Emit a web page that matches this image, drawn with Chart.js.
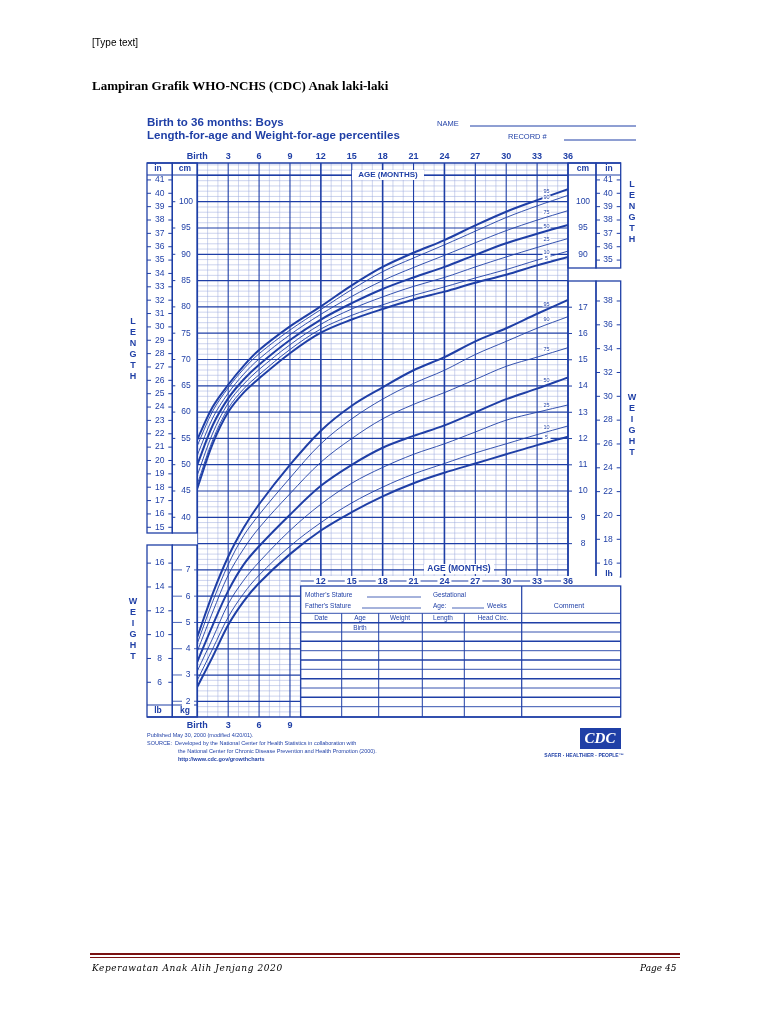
<!DOCTYPE html>
<html>
<head>
<meta charset="utf-8">
<script src="https://cdn.jsdelivr.net/npm/chart.js@4"></script>
<style>
  body { margin: 0; background: #fff; }
  #page { position: relative; width: 768px; height: 1024px; overflow: hidden; }
  #wrap { position: absolute; left: 0; top: 0; width: 768px; height: 1024px; }
  .t { position: absolute; white-space: nowrap; color: #000; }
</style>
</head>
<body>
<div id="page">
  <div id="wrap"><canvas id="growth"></canvas></div>
  <div class="t" style="left:92px;top:37px;font:10px 'Liberation Sans',sans-serif;">[Type text]</div>
  <div class="t" style="left:92px;top:78px;font:bold 13px 'Liberation Serif',serif;">Lampiran Grafik WHO-NCHS (CDC) Anak laki-laki</div>
  <div class="t" style="left:92px;top:963px;font:italic 9px 'DejaVu Serif',serif;letter-spacing:0.6px;">Keperawatan Anak Alih Jenjang 2020</div>
  <div class="t" style="left:640px;top:963px;font:italic 9px 'DejaVu Serif',serif;">Page 45</div>
  <div style="position:absolute;left:90px;top:953px;width:590px;height:2px;background:#7a1212;"></div>
  <div style="position:absolute;left:90px;top:957px;width:590px;height:1px;background:#7a1212;"></div>
</div>
<script>
// ages in months
var ages = [0, 1.5, 3, 4.5, 6, 9, 12, 15, 18, 21, 24, 27, 30, 33, 36];
var percentiles = ['5', '10', '25', '50', '75', '90', '95'];

// length-for-age (cm)
var len5  = [45.5, 54.0, 60.0, 63.7, 66.4, 71.2, 75.1, 77.6, 79.6, 81.4, 82.9, 84.6, 86.1, 87.9, 89.5];
var len10 = [46.3, 54.7, 60.7, 64.4, 67.1, 71.9, 75.8, 78.4, 80.4, 82.2, 83.8, 85.5, 87.1, 88.9, 90.6];
var len25 = [48.0, 56.0, 61.7, 65.3, 68.1, 72.8, 76.7, 79.6, 81.9, 83.9, 85.6, 87.6, 89.5, 91.3, 93.0];
var len50 = [50.0, 57.5, 62.6, 66.2, 69.0, 73.7, 77.6, 80.7, 83.4, 85.6, 87.6, 89.9, 92.1, 93.9, 95.6];
var len75 = [51.8, 58.9, 63.6, 67.2, 70.1, 74.7, 78.6, 82.0, 85.0, 87.5, 89.8, 92.2, 94.5, 96.5, 98.3];
var len90 = [53.6, 60.2, 64.6, 68.2, 71.1, 75.6, 79.5, 83.3, 86.7, 89.3, 91.8, 94.4, 97.0, 99.2, 101.2];
var len95 = [54.8, 61.0, 65.2, 68.8, 71.8, 76.3, 80.1, 84.1, 87.6, 90.3, 92.7, 95.5, 98.1, 100.3, 102.4];

// weight-for-age (kg)
var wt5  = [2.55, 3.7, 4.9, 5.8, 6.5, 7.6, 8.5, 9.2, 9.8, 10.3, 10.7, 11.05, 11.4, 11.75, 12.07];
var wt10 = [2.8, 4.0, 5.2, 6.1, 6.8, 7.9, 8.8, 9.55, 10.15, 10.65, 11.05, 11.45, 11.8, 12.15, 12.48];
var wt25 = [3.15, 4.4, 5.7, 6.6, 7.3, 8.5, 9.5, 10.3, 10.9, 11.4, 11.8, 12.25, 12.7, 13.0, 13.28];
var wt50 = [3.5, 4.9, 6.2, 7.2, 7.9, 9.1, 10.2, 11.0, 11.65, 12.1, 12.5, 13.0, 13.5, 13.9, 14.33];
var wt75 = [3.9, 5.4, 6.8, 7.8, 8.6, 9.9, 11.1, 12.0, 12.75, 13.3, 13.75, 14.25, 14.75, 15.1, 15.46];
var wt90 = [4.2, 5.8, 7.2, 8.3, 9.1, 10.5, 11.8, 12.75, 13.5, 14.1, 14.6, 15.2, 15.7, 16.2, 16.64];
var wt95 = [4.45, 6.1, 7.5, 8.6, 9.5, 11.0, 12.3, 13.25, 13.95, 14.6, 15.1, 15.7, 16.2, 16.75, 17.28];

var monthLabels = ['Birth', '3', '6', '9', '12', '15', '18', '21', '24', '27', '30', '33', '36'];
var cmTicks = [40, 45, 50, 55, 60, 65, 70, 75, 80, 85, 90, 95, 100];
var kgTicksLeft = [2, 3, 4, 5, 6, 7];
var kgTicksRight = [8, 9, 10, 11, 12, 13, 14, 15, 16, 17];

var BLUE = '#1f3fa6';
var LIGHT = '#9aa9dc';
var lenSeries = [len5, len10, len25, len50, len75, len90, len95];
var wtSeries = [wt5, wt10, wt25, wt50, wt75, wt90, wt95];

function pts(vals) {
  return ages.map(function (a, i) { return { x: a, y: vals[i] }; });
}
function thick(p) { return (p === '5' || p === '50' || p === '95') ? 2 : 0.9; }

var datasets = [];
lenSeries.forEach(function (s, i) {
  datasets.push({ label: 'L' + percentiles[i], data: pts(s), yAxisID: 'cm',
    borderColor: BLUE, borderWidth: thick(percentiles[i]), pointRadius: 0, tension: 0.35 });
});
wtSeries.forEach(function (s, i) {
  datasets.push({ label: 'W' + percentiles[i], data: pts(s), yAxisID: 'kg',
    borderColor: BLUE, borderWidth: thick(percentiles[i]), pointRadius: 0, tension: 0.35 });
});

function txt(ctx, s, x, y, font, align) {
  ctx.font = font; ctx.textAlign = align || 'center'; ctx.textBaseline = 'middle';
  ctx.fillStyle = BLUE; ctx.fillText(s, x, y);
}
function line(ctx, x1, y1, x2, y2, w, col) {
  ctx.beginPath(); ctx.lineWidth = w || 1; ctx.strokeStyle = col || BLUE;
  ctx.moveTo(x1, y1); ctx.lineTo(x2, y2); ctx.stroke();
}
function vertical(ctx, word, x, y0) {
  for (var i = 0; i < word.length; i++) txt(ctx, word[i], x, y0 + i * 11, 'bold 9px "Liberation Sans"');
}

var gridPlugin = {
  id: 'grid',
  beforeDatasetsDraw: function (chart) {
    var ctx = chart.ctx, a = chart.chartArea, sx = chart.scales.x, sc = chart.scales.cm;
    ctx.save();
    for (var c = 3; c <= 107; c++) {
      var y = sc.getPixelForValue(c);
      if (c % 5 !== 0) line(ctx, a.left, y, a.right, y, 0.5, LIGHT);
    }
    for (var m = 0; m <= 36; m++) {
      var x = sx.getPixelForValue(m);
      if (m % 3 !== 0) line(ctx, x, a.top, x, a.bottom, 0.5, LIGHT);
    }
    for (var c2 = 5; c2 <= 105; c2 += 5) {
      var y2 = sc.getPixelForValue(c2);
      line(ctx, a.left, y2, a.right, y2, 1.2);
    }
    for (var m2 = 0; m2 <= 36; m2 += 3) {
      var x2 = sx.getPixelForValue(m2);
      line(ctx, x2, a.top, x2, a.bottom, (m2 % 12 === 0 || m2 === 18) ? 1.6 : 1.1);
    }
    ctx.restore();
  },
  afterDatasetsDraw: function (chart) {
    var ctx = chart.ctx, a = chart.chartArea, sx = chart.scales.x, sc = chart.scales.cm, sk = chart.scales.kg;
    var X = function (m) { return sx.getPixelForValue(m); };
    var YC = function (v) { return sc.getPixelForValue(v); };
    var YK = function (v) { return sk.getPixelForValue(v); };
    ctx.save();
    // header rows
    ctx.fillStyle = '#fff';
    ctx.fillRect(140, 108, 510, a.top - 108 - 1);
    txt(ctx, 'Birth to 36 months: Boys', 147, 123, 'bold 11.5px "Liberation Sans"', 'left');
    txt(ctx, 'Length-for-age and Weight-for-age percentiles', 147, 136, 'bold 11.5px "Liberation Sans"', 'left');
    txt(ctx, 'NAME', 437, 124, '7.5px "Liberation Sans"', 'left');
    line(ctx, 470, 126, 636, 126, 1);
    txt(ctx, 'RECORD #', 508, 137, '7.5px "Liberation Sans"', 'left');
    line(ctx, 564, 140, 636, 140, 1);
    monthLabels.forEach(function (l, i) {
      txt(ctx, l, X(i * 3), 157, 'bold 9px "Liberation Sans"');
    });
    line(ctx, 147, a.top, 621, a.top, 1.5);
    line(ctx, a.left, a.top + 12, a.right, a.top + 12, 1.2);
    ctx.fillStyle = '#fff';
    ctx.fillRect(352, a.top + 7, 72, 10);
    txt(ctx, 'AGE (MONTHS)', 388, a.top + 12, 'bold 8px "Liberation Sans"');

    // left column boxes
    var L0 = 147, L1 = 172.3, R1 = 596, R2 = 620.7;
    ctx.fillStyle = '#fff';
    ctx.fillRect(L0 - 20, 533, a.left - L0 + 20, 12);
    ctx.fillRect(a.right + 1, 268, R2 - a.right + 1, 13);
    ctx.strokeStyle = BLUE; ctx.lineWidth = 1.3;
    ctx.strokeRect(L0, a.top, L1 - L0, 533 - a.top);
    ctx.strokeRect(L1, a.top, a.left - L1, 533 - a.top);
    ctx.strokeRect(L0, 545, L1 - L0, a.bottom - 545);
    ctx.strokeRect(L1, 545, a.left - L1, a.bottom - 545);
    line(ctx, L0, a.top + 12, a.left, a.top + 12, 1.2);
    line(ctx, L0, a.bottom - 12, a.left, a.bottom - 12, 1.2);
    txt(ctx, 'in', 158, a.top + 6, 'bold 8.5px "Liberation Sans"');
    txt(ctx, 'cm', 185, a.top + 6, 'bold 8.5px "Liberation Sans"');
    txt(ctx, 'lb', 158, a.bottom - 6, 'bold 8.5px "Liberation Sans"');
    txt(ctx, 'kg', 185, a.bottom - 6, 'bold 8.5px "Liberation Sans"');
    for (var inch = 15; inch <= 41; inch++) {
      var yi = YC(inch * 2.54);
      line(ctx, L0, yi, L0 + 4, yi, 1); line(ctx, L1 - 4, yi, L1, yi, 1);
      txt(ctx, String(inch), (L0 + L1) / 2, yi, '8.5px "Liberation Sans"');
    }
    cmTicks.forEach(function (c) {
      var y = YC(c);
      line(ctx, L1, y, L1 + 3, y, 1);
      txt(ctx, String(c), 186, y, '8.5px "Liberation Sans"');
    });
    for (var lb = 6; lb <= 16; lb += 2) {
      var yl = YK(lb / 2.2046);
      line(ctx, L0, yl, L0 + 4, yl, 1); line(ctx, L1 - 4, yl, L1, yl, 1);
      txt(ctx, String(lb), (L0 + L1) / 2, yl, '8.5px "Liberation Sans"');
    }
    kgTicksLeft.forEach(function (k) {
      var y = YK(k);
      line(ctx, L1, y, a.left, y, 0.8);
      ctx.fillStyle = '#fff'; ctx.fillRect(182, y - 5, 12, 10);
      txt(ctx, String(k), 188, y, '8.5px "Liberation Sans"');
    });
    vertical(ctx, 'LENGTH', 133, 322);
    vertical(ctx, 'WEIGHT', 133, 602);

    // right column boxes
    ctx.strokeStyle = BLUE; ctx.lineWidth = 1.3;
    ctx.strokeRect(a.right, a.top, R1 - a.right, 268 - a.top);
    ctx.strokeRect(R1, a.top, R2 - R1, 268 - a.top);
    ctx.strokeRect(a.right, 281, R1 - a.right, 577 - 281);
    ctx.strokeRect(R1, 281, R2 - R1, 577 - 281);
    line(ctx, a.right, a.top + 12, R2, a.top + 12, 1.2);
    txt(ctx, 'cm', 583, a.top + 6, 'bold 8.5px "Liberation Sans"');
    txt(ctx, 'in', 609, a.top + 6, 'bold 8.5px "Liberation Sans"');
    [90, 95, 100].forEach(function (c) { txt(ctx, String(c), 583, YC(c), '8.5px "Liberation Sans"'); });
    for (var in2 = 35; in2 <= 41; in2++) {
      var yr = YC(in2 * 2.54);
      line(ctx, R1, yr, R1 + 4, yr, 1); line(ctx, R2 - 4, yr, R2, yr, 1);
      txt(ctx, String(in2), 608, yr, '8.5px "Liberation Sans"');
    }
    kgTicksRight.forEach(function (k) {
      var y = YK(k);
      line(ctx, a.right, y, a.right + 4, y, 1);
      txt(ctx, String(k), 583, y, '8.5px "Liberation Sans"');
    });
    for (var lb2 = 16; lb2 <= 38; lb2 += 2) {
      var y2 = YK(lb2 / 2.2046);
      line(ctx, R1, y2, R1 + 4, y2, 1); line(ctx, R2 - 4, y2, R2, y2, 1);
      txt(ctx, String(lb2), 608, y2, '8.5px "Liberation Sans"');
    }
    txt(ctx, 'kg', 584, 581, 'bold 8.5px "Liberation Sans"');
    txt(ctx, 'lb', 609, 575, 'bold 8.5px "Liberation Sans"');
    vertical(ctx, 'LENGTH', 632, 185);
    vertical(ctx, 'WEIGHT', 632, 398);

    // percentile labels near curve ends
    function pctLabel(p, y) {
      var x = X(34.3) - 4;
      ctx.fillStyle = '#fff'; ctx.fillRect(x - 4, y - 6, 8, 5);
      txt(ctx, p, x, y - 3.5, '5.5px "Liberation Sans"');
    }
    lenSeries.forEach(function (s, i) { pctLabel(percentiles[i], YC(s[13] + (s[14] - s[13]) * 0.45)); });
    wtSeries.forEach(function (s, i) { pctLabel(percentiles[i], YK(s[13] + (s[14] - s[13]) * 0.45)); });

    // lower age axis + record table
    var T0 = 300.7, T1 = 620.7, TT = 586, TB = a.bottom;
    ctx.fillStyle = '#fff';
    ctx.fillRect(T0, 576, T1 - T0 - 1, TB - 576);
    ctx.fillRect(424, 564, 70, 10);
    txt(ctx, 'AGE (MONTHS)', 459, 569, 'bold 8.5px "Liberation Sans"');
    line(ctx, T0, 581, a.right, 581, 1.2);
    for (var k = 4; k < monthLabels.length; k++) {
      var xm = X(k * 3);
      ctx.fillStyle = '#fff'; ctx.fillRect(xm - 7, 576, 14, 10);
      txt(ctx, monthLabels[k], xm, 582, 'bold 9px "Liberation Sans"');
    }
    ctx.strokeStyle = BLUE; ctx.lineWidth = 1.3;
    ctx.strokeRect(T0, TT, T1 - T0, TB - TT);
    var rows = [613.3, 622.7, 632, 641.3, 650.7, 660, 669.3, 678.7, 688, 697.3, 706.7];
    rows.forEach(function (y, i) { line(ctx, T0, y, T1, y, i % 2 ? 1.4 : 0.9); });
    [341.7, 378.7, 422.3, 464.3].forEach(function (x) { line(ctx, x, 613.3, x, TB, 1); });
    line(ctx, 521.7, TT, 521.7, TB, 1.2);
    var f6 = '6.5px "Liberation Sans"';
    txt(ctx, "Mother's Stature", 305, 595, f6, 'left'); line(ctx, 367, 597, 421, 597, 0.8);
    txt(ctx, "Father's Stature", 305, 606, f6, 'left'); line(ctx, 362, 608, 421, 608, 0.8);
    txt(ctx, 'Gestational', 433, 595, f6, 'left');
    txt(ctx, 'Age:', 433, 606, f6, 'left'); line(ctx, 452, 608, 484, 608, 0.8);
    txt(ctx, 'Weeks', 487, 606, f6, 'left');
    txt(ctx, 'Comment', 569, 606, '7px "Liberation Sans"');
    [['Date', 321], ['Age', 360], ['Weight', 400], ['Length', 443], ['Head Circ.', 493]].forEach(function (h) {
      txt(ctx, h[0], h[1], 618, f6);
    });
    txt(ctx, 'Birth', 360, 628, f6);

    // bottom labels
    ctx.fillStyle = '#fff'; ctx.fillRect(140, a.bottom + 2, 510, 60);
    line(ctx, L0, a.bottom, T1, a.bottom, 1.5);
    for (var j = 0; j < 4; j++) txt(ctx, monthLabels[j], X(j * 3), 726, 'bold 9px "Liberation Sans"');
    var f5 = '5.5px "Liberation Sans"';
    txt(ctx, 'Published May 30, 2000 (modified 4/20/01).', 147, 735, f5, 'left');
    txt(ctx, 'SOURCE:  Developed by the National Center for Health Statistics in collaboration with', 147, 743, f5, 'left');
    txt(ctx, 'the National Center for Chronic Disease Prevention and Health Promotion (2000).', 178, 751, f5, 'left');
    txt(ctx, 'http://www.cdc.gov/growthcharts', 178, 759, 'bold 5.5px "Liberation Sans"', 'left');
    ctx.fillStyle = BLUE; ctx.fillRect(580, 728, 41, 21);
    ctx.font = 'bold italic 15px "Liberation Serif"'; ctx.fillStyle = '#fff'; ctx.textAlign = 'center';
    ctx.fillText('CDC', 600, 739);
    txt(ctx, 'SAFER \u00b7 HEALTHIER \u00b7 PEOPLE\u2122', 584, 756, 'bold 5px "Liberation Sans"');
    ctx.restore();
  }
};

var ctx = document.getElementById('growth').getContext('2d');
var growthChart = new Chart(ctx, {
  type: 'line',
  data: { datasets: datasets },
  plugins: [gridPlugin],
  options: {
    responsive: true,
    maintainAspectRatio: false,
    animation: false,
    layout: { padding: { left: 197.3, right: 200, top: 163, bottom: 307 } },
    plugins: { legend: { display: false }, tooltip: { enabled: false } },
    scales: {
      x: { type: 'linear', min: 0, max: 36, display: false },
      cm: { type: 'linear', position: 'left', min: 2.03, max: 107.36, display: false },
      kg: { type: 'linear', position: 'right', min: 1.40, max: 22.49, display: false }
    }
  }
});
</script>
</body>
</html>
